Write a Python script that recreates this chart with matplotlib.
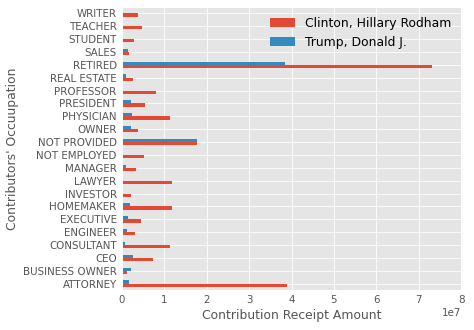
import matplotlib
matplotlib.use("Agg")
import matplotlib.pyplot as plt
import numpy as np
import pandas as pd

plt.style.use("ggplot")

occupations = ["ATTORNEY", "BUSINESS OWNER", "CEO", "CONSULTANT", "ENGINEER",
               "EXECUTIVE", "HOMEMAKER", "INVESTOR", "LAWYER", "MANAGER",
               "NOT EMPLOYED", "NOT PROVIDED", "OWNER", "PHYSICIAN", "PRESIDENT",
               "PROFESSOR", "REAL ESTATE", "RETIRED", "SALES", "STUDENT",
               "TEACHER", "WRITER"]
clinton = [3.89e7, 0.13e7, 0.74e7, 1.13e7, 0.31e7,
           0.46e7, 1.19e7, 0.22e7, 1.18e7, 0.33e7,
           0.53e7, 1.77e7, 0.38e7, 1.14e7, 0.55e7,
           0.81e7, 0.27e7, 7.32e7, 0.17e7, 0.295e7,
           0.48e7, 0.39e7]
trump = [0.17e7, 0.22e7, 0.27e7, 0.07e7, 0.12e7,
         0.15e7, 0.19e7, 0.035e7, 0.02e7, 0.10e7,
         0.005e7, 1.78e7, 0.22e7, 0.25e7, 0.22e7,
         0.01e7, 0.11e7, 3.85e7, 0.145e7, 0.005e7,
         0.01e7, 0.005e7]

df = pd.DataFrame({"Clinton, Hillary Rodham": clinton,
                   "Trump, Donald J.": trump}, index=occupations)

fig, ax = plt.subplots(figsize=(474/74, 330/74), dpi=74)
fig.subplots_adjust(left=0.257, right=0.973, top=0.979, bottom=0.121)
df.plot(kind="barh", ax=ax)
ax.set_xlim(0, 8e7)
ax.tick_params(length=0, pad=5)
ax.set_xlabel("Contribution Receipt Amount")
ax.set_ylabel("Contributors' Occuupation")
ax.legend(fontsize=12, frameon=False, loc="upper right", borderaxespad=0.4)
fig.savefig("out.png", dpi=74)
